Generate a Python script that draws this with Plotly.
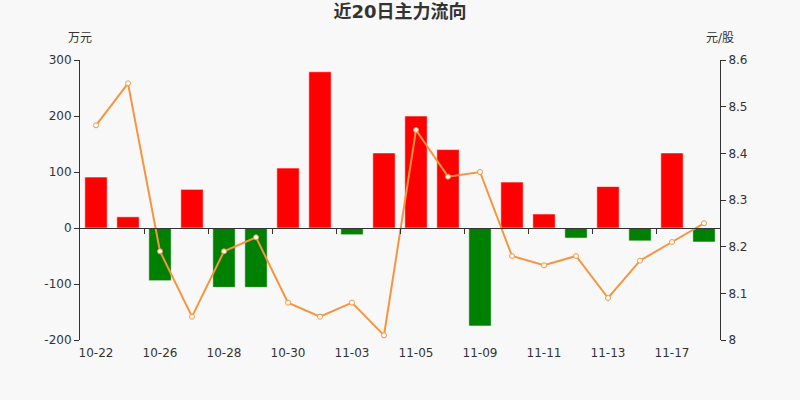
import plotly.graph_objects as go

dates = ["10-22", "10-23", "10-26", "10-27", "10-28", "10-29", "10-30", "11-02", "11-03", "11-04",
         "11-05", "11-06", "11-09", "11-10", "11-11", "11-12", "11-13", "11-16", "11-17", "11-18"]
main_flow = [91, 20, -94, 69, -106, -106, 107, 279, -12, 134,
             200, 140, -175, 82, 25, -18, 74, -23, 134, -25]
price = [8.46, 8.55, 8.19, 8.05, 8.19, 8.22, 8.08, 8.05, 8.08, 8.01,
         8.45, 8.35, 8.36, 8.18, 8.16, 8.18, 8.09, 8.17, 8.21, 8.25]
left_ticks = [-200, -100, 0, 100, 200, 300]
label_dates = dates[::2]
boundary_ticks = [i + 1.5 for i in range(0, len(dates), 2)]

RED = "#ff0000"
GREEN = "#008000"
ORANGE = "#f7943d"
TXT = "#333333"
FONT = "DejaVu Sans, Noto Sans CJK SC, sans-serif"

bar_colors = [RED if v >= 0 else GREEN for v in main_flow]

fig = go.Figure()
fig.add_trace(go.Bar(
    x=dates, y=main_flow, xaxis="x", yaxis="y",
    marker=dict(color=bar_colors, line=dict(color="rgba(255,255,255,0.55)", width=1)),
    width=0.7, hoverinfo="x+y", showlegend=False,
))
fig.add_trace(go.Scatter(
    x=dates, y=price, xaxis="x2", yaxis="y2", mode="lines+markers",
    line=dict(color=ORANGE, width=2),
    marker=dict(symbol="circle", size=5, color="white", line=dict(color=ORANGE, width=1)),
    showlegend=False,
))

fig.update_layout(
    width=800, height=400,
    margin=dict(l=80, r=80, t=60, b=60),
    paper_bgcolor="#f8f8f8", plot_bgcolor="#f8f8f8",
    font=dict(family=FONT, size=12, color=TXT),
    title=dict(text="<b>近20日主力流向</b>", x=0.5, xanchor="center", y=0.97, yanchor="middle",
               font=dict(family="DejaVu Sans, Noto Sans CJK SC", size=18, color=TXT)),
    xaxis=dict(type="category", categoryorder="array", categoryarray=dates,
               range=[-0.5, len(dates) - 0.5], tickmode="array", tickvals=label_dates,
               ticks="", showline=False, showgrid=False, zeroline=False,
               tickfont=dict(size=12, color=TXT), ticklabelstandoff=4),
    xaxis2=dict(type="category", categoryorder="array", categoryarray=dates,
                overlaying="x", anchor="free", position=0.4,
                range=[-0.5, len(dates) - 0.5], tickmode="array", tickvals=boundary_ticks,
                showticklabels=False, ticks="outside", ticklen=5, tickcolor=TXT,
                showline=True, linecolor=TXT, linewidth=1, showgrid=False, zeroline=False),
    yaxis=dict(range=[-200, 300], tickmode="array", tickvals=left_ticks,
               ticktext=[str(v) for v in left_ticks],
               ticks="outside", ticklen=5, tickcolor=TXT, showline=True, linecolor=TXT,
               linewidth=1, showgrid=False, zeroline=False, tickfont=dict(size=12, color=TXT)),
    yaxis2=dict(range=[8, 8.6], tickmode="linear", tick0=8, dtick=0.1, overlaying="y",
                side="right", anchor="x", ticks="outside", ticklen=5, tickcolor=TXT,
                showline=True, linecolor=TXT, linewidth=1, showgrid=False, zeroline=False,
                tickfont=dict(size=12, color=TXT)),
    bargap=0.3,
    annotations=[
        dict(text="万元", xref="paper", yref="paper", x=0, y=1.079, xanchor="center",
             yanchor="middle", showarrow=False, font=dict(size=12, color=TXT)),
        dict(text="元/股", xref="paper", yref="paper", x=1, y=1.079, xanchor="center",
             yanchor="middle", showarrow=False, font=dict(size=12, color=TXT)),
    ],
)

fig.write_html("out.html")
